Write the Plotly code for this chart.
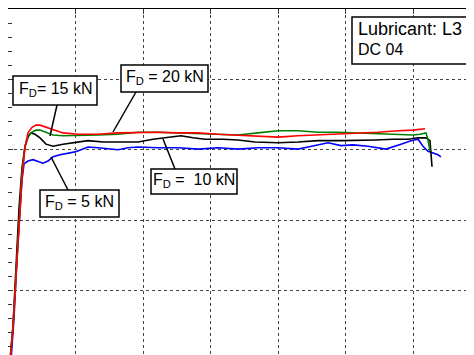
import plotly.graph_objects as go

# ---- data (x: sliding distance, y: force) ----
red_x = [0.3, 0.74, 1.18, 1.63, 2.07, 2.52, 2.96, 3.55, 4.14, 4.74, 5.62, 6.66, 8.14, 10.36, 13.32, 16.28,
         19.24, 22.2, 25.16, 28.12, 31.08, 34.04, 37.0, 39.96, 42.92, 45.88, 48.84, 51.8, 54.76, 57.72, 59.94, 61.71]
red_y = [0.0, 4.7, 11.8, 18.9, 26.0, 30.3, 32.4, 33.2, 33.5, 33.5, 33.2, 32.8, 32.4, 32.2, 32.2, 32.4,
         32.5, 32.5, 32.4, 32.4, 32.2, 32.1, 32.0, 31.8, 32.0, 32.1, 32.2, 32.4, 32.5, 32.7, 32.8, 33.0]

green_x = [0.3, 0.74, 1.18, 1.63, 2.07, 2.52, 2.96, 3.55, 4.14, 4.74, 5.62, 6.66, 8.14, 10.36, 13.32, 16.28,
           19.24, 22.2, 25.16, 28.12, 31.08, 34.04, 37.0, 39.96, 42.92, 45.88, 48.84, 51.8, 54.76, 57.72,
           59.94, 60.97, 61.86, 62.16, 62.45]
green_y = [0.0, 5.0, 12.1, 19.6, 26.7, 30.5, 32.0, 32.5, 32.8, 32.8, 32.5, 32.1, 32.0, 32.0, 32.1, 32.2,
           32.5, 32.5, 32.4, 32.2, 32.1, 32.1, 32.4, 32.7, 32.7, 32.5, 32.5, 32.4, 32.2, 32.1,
           32.1, 32.2, 32.4, 31.4, 29.8]

black_x = [0.3, 0.74, 1.18, 1.63, 2.07, 2.52, 2.96, 3.4, 4.0, 4.74, 5.62, 6.66, 8.14, 9.92, 11.84, 14.06,
           16.28, 19.24, 21.46, 23.68, 25.6, 27.38, 29.15, 31.82, 34.04, 36.55, 39.96, 42.92, 45.88, 49.28,
           51.8, 54.31, 56.98, 59.2, 60.68, 61.86, 62.45, 62.6, 62.75]
black_y = [0.0, 5.0, 13.2, 21.7, 27.4, 30.5, 31.8, 32.4, 32.2, 31.7, 30.8, 30.5, 30.8, 31.0, 31.3, 31.1,
           31.1, 31.1, 31.5, 31.8, 32.0, 31.7, 31.5, 31.5, 31.4, 31.1, 31.0, 31.1, 31.3, 31.3,
           31.4, 31.4, 31.5, 31.5, 31.7, 31.7, 31.3, 29.5, 27.6]

blue_x = [0.44, 0.89, 1.33, 1.78, 2.07, 2.37, 2.96, 3.7, 4.44, 5.18, 5.92, 6.66, 7.7, 8.88, 9.92, 11.1,
          11.84, 13.32, 14.8, 16.28, 17.76, 19.24, 22.2, 25.16, 28.12, 31.08, 34.04, 37.0, 39.96, 42.92,
          44.4, 47.36, 49.28, 51.06, 53.28, 55.94, 58.16, 59.64, 60.68, 61.42, 62.16, 63.64, 64.08]
blue_y = [0.0, 6.1, 14.6, 21.7, 25.7, 28.0, 28.4, 28.6, 28.4, 28.1, 28.4, 29.0, 29.3, 29.5, 29.7, 30.1,
          30.4, 30.3, 30.1, 30.0, 30.3, 30.4, 30.3, 30.3, 30.1, 30.3, 30.1, 30.3, 30.3, 30.1,
          30.4, 31.0, 30.6, 30.7, 30.5, 30.1, 30.8, 31.3, 31.5, 30.5, 29.8, 29.3, 29.0]

labels = ["F<sub>D</sub>= 15 kN", "F<sub>D</sub> = 20 kN", "F<sub>D</sub> = 5 kN", "F<sub>D</sub> =  10 kN"]
info_line1 = "Lubricant: L3"
info_line2 = "DC 04"

W, H = 474, 355
ML, MR, MT, MB = 0, 1, 1, 2
PW, PH = W - ML - MR, H - MT - MB


def px(x):
    return (x - ML) / PW


def py(y):
    return 1 - (y - MT) / PH


fig = go.Figure()
fig.add_trace(go.Scatter(x=blue_x, y=blue_y, mode="lines", line=dict(color="#0000ff", width=1.6)))
fig.add_trace(go.Scatter(x=black_x, y=black_y, mode="lines", line=dict(color="#000000", width=1.6)))
fig.add_trace(go.Scatter(x=green_x, y=green_y, mode="lines", line=dict(color="#008000", width=1.6)))
fig.add_trace(go.Scatter(x=red_x, y=red_y, mode="lines", line=dict(color="#ff0000", width=1.6)))

FAM = "Liberation Sans, Arial, sans-serif"
font = dict(family=FAM, size=16, color="black")

# label boxes in pixels (x0, y0, x1, y1); leader lines (x0,y0)->(x1,y1) in pixels
boxes = [(5, 68, 89, 97), (113, 57, 200, 84), (32, 182, 111, 209), (143, 161, 229, 186)]
leaders = [((49, 97), (42, 128)), ((128, 84), (105, 124)), ((60, 182), (43, 149)), ((167, 161), (155, 131))]

for (a, b) in leaders:
    fig.add_shape(type="line", xref="paper", yref="paper",
                  x0=px(a[0]), y0=py(a[1]), x1=px(b[0]), y1=py(b[1]),
                  line=dict(color="black", width=1.5))

for txt, (x0, y0, x1, y1) in zip(labels, boxes):
    fig.add_shape(type="rect", xref="paper", yref="paper", x0=px(x0), y0=py(y0), x1=px(x1), y1=py(y1),
                  line=dict(color="black", width=1.5), fillcolor="white", layer="above")
    fig.add_annotation(xref="paper", yref="paper", x=px((x0 + x1) / 2), y=py((y0 + y1) / 2 - 1),
                       xanchor="center", yanchor="middle", text=txt, showarrow=False, font=font)

# info box
fig.add_shape(type="rect", xref="paper", yref="paper", x0=px(344), y0=py(9), x1=px(465), y1=py(56),
              line=dict(color="black", width=1.5), fillcolor="white", layer="above")
fig.add_annotation(xref="paper", yref="paper", x=px(348), y=py(21), xanchor="left", yanchor="middle",
                   text=info_line1, showarrow=False, font=dict(family=FAM, size=18, color="black"))
fig.add_annotation(xref="paper", yref="paper", x=px(348), y=py(41), xanchor="left", yanchor="middle",
                   text=info_line2, showarrow=False, font=dict(family=FAM, size=16, color="black"))

axis_common = dict(showgrid=True, gridcolor="#444444", griddash="dot", gridwidth=1,
                   showline=True, linecolor="black", linewidth=1.5, mirror="allticks",
                   zeroline=False, showticklabels=False, ticks="inside", ticklen=5,
                   tickcolor="#333333")

fig.update_xaxes(range=[0, 70], dtick=10, **axis_common)
fig.update_yaxes(range=[0, 50], dtick=10, minor=dict(dtick=2, ticks="inside", ticklen=4,
                                                     tickcolor="#333333", showgrid=False),
                 **axis_common)

fig.update_layout(width=W, height=H, margin=dict(l=ML, r=MR, t=MT, b=MB),
                  plot_bgcolor="white", paper_bgcolor="white", showlegend=False)

fig.write_html("out.html")
